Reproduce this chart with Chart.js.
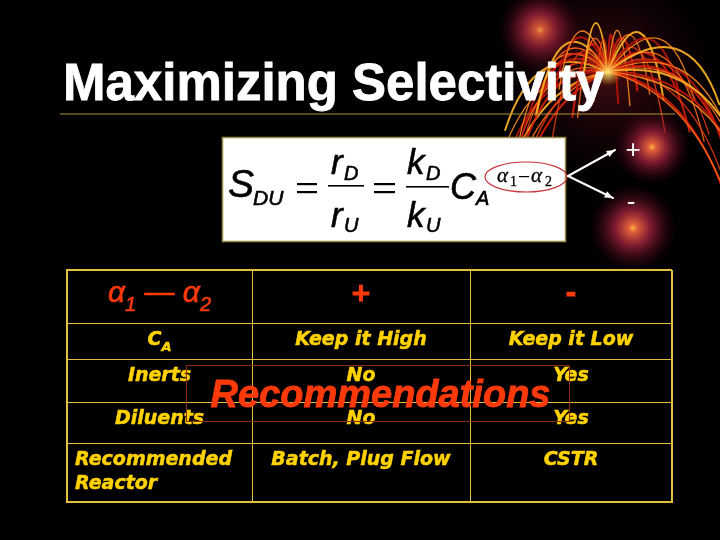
<!DOCTYPE html>
<html>
<head>
<meta charset="utf-8">
<title>Maximizing Selectivity</title>
<script src="https://cdn.jsdelivr.net/npm/chart.js@4.4.1/dist/chart.umd.min.js"></script>
<style>
  html, body { margin: 0; padding: 0; background: #000; }
  #slide { display: block; }
</style>
</head>
<body>
<canvas id="slide" width="720" height="540"></canvas>
<script>
// slide text
var slideTitle = 'Maximizing Selectivity';
var overlayLabel = 'Recommendations';

// table content ("_X" = subscript X)
var columnHeads = ['α_1 — α_2', '+', '-'];
var factors = ['C_A', 'Inerts', 'Diluents', 'Recommended\nReactor'];
var positiveCase = ['Keep it High', 'No', 'No', 'Batch, Plug Flow'];
var negativeCase = ['Keep it Low', 'Yes', 'Yes', 'CSTR'];

// table grid, in axis units
var colEdges = [0, 185, 403, 605];
var rowEdges = [0, 53, 89, 132, 173, 232];

var gold = '#E3BE3A';
var yellow = '#FFD200';
var red = '#FF3A0A';

// one point per cell, anchored at the top of its row
var rows = [columnHeads];
for (var i = 0; i < factors.length; i++) {
  rows.push([factors[i], positiveCase[i], negativeCase[i]]);
}
var cells = [];
rows.forEach(function (row, r) {
  row.forEach(function (txt, c) {
    cells.push({ x: (colEdges[c] + colEdges[c + 1]) / 2, y: rowEdges[r], text: txt, row: r, col: c });
  });
});

function richParts(text) {
  var parts = [], re = /_(\w)/g, last = 0, m;
  while ((m = re.exec(text))) {
    if (m.index > last) parts.push({ t: text.slice(last, m.index), sub: false });
    parts.push({ t: m[1], sub: true });
    last = re.lastIndex;
  }
  if (last < text.length) parts.push({ t: text.slice(last), sub: false });
  return parts;
}

// heavy = extra outline in the fill colour, to get the fat slide font
function drawRich(ctx, text, x, y, size, style, family, align, heavy) {
  var parts = richParts(text), w = 0;
  parts.forEach(function (p) {
    ctx.font = style + ' ' + (p.sub ? Math.round(size * 0.68) : size) + 'px ' + family;
    p.w = ctx.measureText(p.t).width;
    w += p.w;
  });
  var px = align === 'left' ? x : x - w / 2;
  ctx.textAlign = 'left';
  ctx.strokeStyle = ctx.fillStyle;
  ctx.lineWidth = heavy || 0;
  parts.forEach(function (p) {
    ctx.font = style + ' ' + (p.sub ? Math.round(size * 0.68) : size) + 'px ' + family;
    var py = p.sub ? y + size * 0.3 : y;
    ctx.fillText(p.t, px, py);
    if (heavy) ctx.strokeText(p.t, px, py);
    px += p.w;
  });
}

function blob(ctx, x, y, r) {
  var g = ctx.createRadialGradient(x, y, 0, x, y, r);
  g.addColorStop(0, 'rgba(255,180,70,1)');
  g.addColorStop(0.1, 'rgba(235,100,60,0.95)');
  g.addColorStop(0.4, 'rgba(160,35,60,0.8)');
  g.addColorStop(1, 'rgba(60,0,20,0)');
  ctx.fillStyle = g;
  ctx.beginPath();
  ctx.arc(x, y, r, 0, Math.PI * 2);
  ctx.fill();
}

function fireworks(ctx) {
  var cx = 608, cy = 72;
  var halo = ctx.createRadialGradient(cx, cy, 0, cx, cy, 110);
  halo.addColorStop(0, 'rgba(150,30,40,0.45)');
  halo.addColorStop(1, 'rgba(60,0,20,0)');
  ctx.fillStyle = halo;
  ctx.fillRect(cx - 110, cy - 110, 220, 220);

  var cols = ['#d81e0a', '#ff6a14', '#ffb624', '#e63a10', '#b81408', '#ff8a1c'];
  ctx.lineCap = 'round';
  var n = 44;
  for (var i = 0; i < n; i++) {
    var a = -Math.PI - 0.3 + (i / (n - 1)) * (Math.PI + 0.55);
    var ca = Math.cos(a), sa = Math.sin(a);
    var kx = ca < 0 ? 0.8 : 1.05;
    var r1 = 78 + (i % 3) * 10;
    var p1x = cx + r1 * ca * kx, p1y = cy + r1 * sa;
    var p2x = p1x + 30 * ca * kx + (ca < 0 ? -8 : 8);
    var p2y = p1y + 95 + (i % 4) * 12;
    ctx.strokeStyle = cols[i % cols.length];
    ctx.lineWidth = i % 2 ? 1.3 : 2;
    ctx.globalAlpha = 0.9;
    ctx.beginPath();
    ctx.moveTo(cx, cy);
    ctx.quadraticCurveTo(p1x, p1y, p2x, p2y);
    ctx.stroke();
  }
  ctx.globalAlpha = 1;
  var c = ctx.createRadialGradient(cx, cy, 0, cx, cy, 14);
  c.addColorStop(0, 'rgba(255,240,120,1)');
  c.addColorStop(1, 'rgba(255,160,40,0)');
  ctx.fillStyle = c;
  ctx.beginPath();
  ctx.arc(cx, cy, 14, 0, Math.PI * 2);
  ctx.fill();
}

function arrow(ctx, x1, y1, x2, y2) {
  var ang = Math.atan2(y2 - y1, x2 - x1);
  ctx.beginPath();
  ctx.moveTo(x1, y1);
  ctx.lineTo(x2, y2);
  ctx.stroke();
  ctx.beginPath();
  ctx.moveTo(x2, y2);
  ctx.lineTo(x2 - 9 * Math.cos(ang - 0.4), y2 - 9 * Math.sin(ang - 0.4));
  ctx.lineTo(x2 - 9 * Math.cos(ang + 0.4), y2 - 9 * Math.sin(ang + 0.4));
  ctx.closePath();
  ctx.fill();
}

function drawFormula(ctx) {
  ctx.fillStyle = '#fff';
  ctx.fillRect(222, 137, 343, 104);
  ctx.strokeStyle = '#9c8c48';
  ctx.lineWidth = 1.5;
  ctx.strokeRect(222.5, 137.5, 343, 104);

  var it = function (sz) { return 'italic ' + sz + 'px "Liberation Sans"'; };
  ctx.fillStyle = '#000';
  ctx.strokeStyle = '#000';
  ctx.lineWidth = 0.6;
  ctx.textAlign = 'left';
  ctx.textBaseline = 'alphabetic';
  var put = function (t, x, y) { ctx.fillText(t, x, y); ctx.strokeText(t, x, y); };
  ctx.font = it(39); put('S', 228, 197);
  ctx.font = it(21); put('DU', 253, 205);
  ctx.fillRect(297, 183, 20, 2.2); ctx.fillRect(297, 191, 20, 2.2);
  ctx.fillRect(374, 183, 21, 2.2); ctx.fillRect(374, 191, 21, 2.2);
  ctx.fillRect(328, 185, 36, 1.6);
  ctx.fillRect(406, 186, 43, 1.6);
  ctx.font = it(35);
  put('r', 331, 174); put('r', 331, 227);
  put('k', 407, 174); put('k', 407, 227);
  ctx.font = it(20);
  put('D', 344, 180); put('U', 344, 232);
  put('D', 426, 180); put('U', 426, 232);
  ctx.font = it(36); put('C', 450, 199);
  ctx.font = it(20); put('A', 476, 205);
  ctx.lineWidth = 0.3;
  ctx.font = 'italic 21px "Liberation Serif"';
  put('α', 497, 182); put('α', 531, 182);
  ctx.font = '14px "Liberation Serif"';
  put('1', 510, 186); put('2', 545, 186);
  ctx.fillRect(519, 176, 10, 1.2);
  ctx.strokeStyle = '#c8343a';
  ctx.lineWidth = 1.2;
  ctx.beginPath();
  ctx.ellipse(526, 177, 41, 15, 0, 0, Math.PI * 2);
  ctx.stroke();

  ctx.strokeStyle = '#fff';
  ctx.fillStyle = '#fff';
  ctx.lineWidth = 2;
  arrow(ctx, 568, 176, 615, 150);
  arrow(ctx, 568, 176, 613, 198);
  ctx.font = '26px "Liberation Sans"';
  ctx.textAlign = 'center';
  ctx.fillText('+', 633, 158);
  ctx.fillText('-', 631, 210);
}

var slideBackdrop = {
  id: 'slideBackdrop',
  beforeDraw: function (chart) {
    var ctx = chart.ctx;
    ctx.save();
    ctx.fillStyle = '#000';
    ctx.fillRect(0, 0, chart.width, chart.height);
    blob(ctx, 540, 30, 42);
    fireworks(ctx);
    blob(ctx, 652, 147, 38);
    blob(ctx, 633, 228, 44);
    ctx.fillStyle = '#fff';
    ctx.strokeStyle = '#fff';
    ctx.lineWidth = 0.8;
    ctx.textAlign = 'left';
    ctx.textBaseline = 'alphabetic';
    ctx.font = 'bold 51px "Liberation Sans"';
    ctx.fillText(slideTitle, 63, 100);
    ctx.strokeText(slideTitle, 63, 100);
    ctx.fillStyle = '#b09530';
    ctx.fillRect(60, 113.5, 615, 1);
    drawFormula(ctx);
    ctx.restore();
  }
};

var cellText = {
  id: 'cellText',
  afterDatasetsDraw: function (chart) {
    var ctx = chart.ctx;
    var meta = chart.getDatasetMeta(0);
    var xs = chart.scales.x;
    ctx.save();
    ctx.textBaseline = 'alphabetic';
    meta.data.forEach(function (pt, i) {
      var cell = cells[i];
      if (cell.row === 0) {
        ctx.fillStyle = red;
        if (cell.col === 0) {
          drawRich(ctx, cell.text, pt.x, pt.y + 32, 30, 'italic', '"Liberation Sans"', 'center', 0.6);
        } else {
          ctx.font = 'bold 25px "DejaVu Sans"';
          ctx.textAlign = 'center';
          ctx.strokeStyle = red;
          ctx.lineWidth = 1.2;
          ctx.fillText(cell.text, pt.x, pt.y + 31);
          ctx.strokeText(cell.text, pt.x, pt.y + 31);
        }
        return;
      }
      ctx.fillStyle = yellow;
      var lines = cell.text.split('\n');
      if (lines.length > 1) {
        var left = xs.getPixelForValue(colEdges[cell.col]) + 8;
        lines.forEach(function (ln, k) {
          drawRich(ctx, ln, left, pt.y + 22 + k * 24, 19, 'italic bold', '"DejaVu Sans"', 'left', 0.5);
        });
      } else {
        drawRich(ctx, cell.text, pt.x, pt.y + 22, 19, 'italic bold', '"DejaVu Sans"', 'center', 0.5);
      }
    });

    // overlay label across the middle rows
    var ys = chart.scales.y;
    var bx1 = xs.getPixelForValue(119), bx2 = xs.getPixelForValue(502);
    var by1 = ys.getPixelForValue(95), by2 = ys.getPixelForValue(151);
    ctx.strokeStyle = '#8b2a10';
    ctx.lineWidth = 1;
    ctx.strokeRect(bx1 + 0.5, by1 + 0.5, bx2 - bx1, by2 - by1);
    ctx.fillStyle = red;
    ctx.strokeStyle = red;
    ctx.lineWidth = 0.8;
    ctx.font = 'italic bold 38px "Liberation Sans"';
    ctx.textAlign = 'center';
    ctx.fillText(overlayLabel, (bx1 + bx2) / 2 + 3, by1 + 42);
    ctx.strokeText(overlayLabel, (bx1 + bx2) / 2 + 3, by1 + 42);
    ctx.restore();
  }
};

function edgeWidth(edges) {
  return function (c) {
    var v = c.tick ? c.tick.value : null;
    return v === edges[0] || v === edges[edges.length - 1] ? 2 : 1;
  };
}

new Chart(document.getElementById('slide'), {
  type: 'scatter',
  data: {
    datasets: [{
      data: cells,
      pointRadius: 0,
      pointHoverRadius: 0
    }]
  },
  options: {
    responsive: false,
    animation: false,
    devicePixelRatio: 1,
    events: [],
    layout: { padding: { left: 67, top: 270, right: 48, bottom: 38 } },
    plugins: { legend: { display: false }, tooltip: { enabled: false } },
    scales: {
      x: {
        type: 'linear', min: colEdges[0], max: colEdges[colEdges.length - 1],
        afterBuildTicks: function (s) { s.ticks = colEdges.map(function (v) { return { value: v }; }); },
        ticks: { display: false },
        grid: { color: gold, lineWidth: edgeWidth(colEdges), drawTicks: false },
        border: { display: true, color: gold, width: 2 }
      },
      y: {
        type: 'linear', reverse: true, min: rowEdges[0], max: rowEdges[rowEdges.length - 1],
        afterBuildTicks: function (s) { s.ticks = rowEdges.map(function (v) { return { value: v }; }); },
        ticks: { display: false },
        grid: { color: gold, lineWidth: edgeWidth(rowEdges), drawTicks: false },
        border: { display: true, color: gold, width: 2 }
      }
    }
  },
  plugins: [slideBackdrop, cellText]
});
</script>
</body>
</html>
